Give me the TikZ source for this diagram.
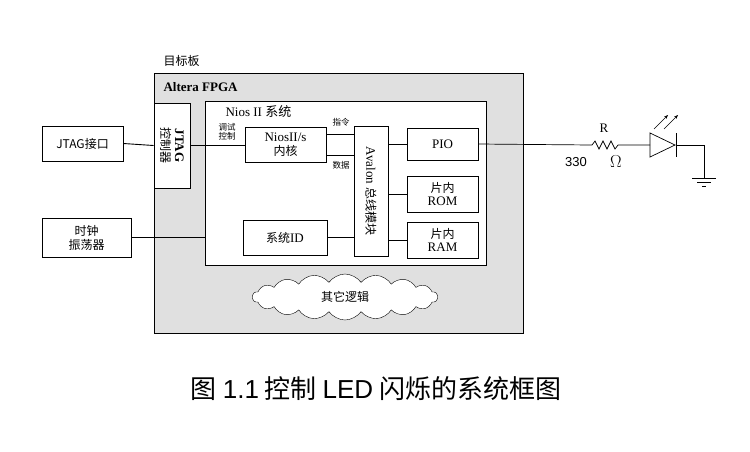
\documentclass[tikz,border=0pt]{standalone}
\usepackage{fontspec}
\setmainfont{Liberation Serif}
\newfontfamily\cjk{Noto Sans CJK SC}
\newfontfamily\sans{Liberation Sans}
\usetikzlibrary{shapes.symbols,arrows.meta}
\begin{document}
\begin{tikzpicture}[x=1pt,y=-1pt,
 box/.style={draw,line width=0.9pt,fill=white,inner sep=0,font=\fontsize{13}{15}\selectfont},
 ln/.style={line width=0.9pt},
 sm/.style={font=\cjk\fontsize{8.5}{9.5}\selectfont}]
\useasboundingbox (0,0) rectangle (750,451);
\node[anchor=south west,font=\cjk\fontsize{12}{13}\selectfont] (tb) at (160,70) {目标板};
\draw[fill=black!12,line width=0.8pt] (154,73) rectangle (523,333);
\node[anchor=west,font=\bfseries\fontsize{13}{14}\selectfont] (af) at (160,87) {Altera FPGA};
\draw[fill=white,line width=0.9pt] (205,101) rectangle (486,265);
\node[anchor=west,font=\fontsize{13}{14}\selectfont] (ns) at (222,112) {Nios II {\cjk 系统}};
\node[box,minimum width=36,minimum height=85] (jc) at (172,145.5) {};
\node[rotate=-90,font=\bfseries\fontsize{13}{14}\selectfont,align=center] (jct) at (172,145.5) {JTAG\\{\cjk\mdseries\fontsize{12}{13}\selectfont 控制器}};
\node[box,minimum width=81,minimum height=35,align=center,font=\fontsize{13}{14}\selectfont] (nc) at (285.5,145) {NiosII/s\\{\cjk\fontsize{12}{13}\selectfont 内核}};
\node[box,minimum width=34,minimum height=130] (av) at (371,191) {};
\node[rotate=-90,font=\fontsize{13}{14}\selectfont] (avt) at (371,191) {Avalon {\cjk\fontsize{12}{13}\selectfont 总线模块}};
\node[box,minimum width=71,minimum height=32] (pio) at (442.5,144) {PIO};
\node[box,minimum width=71,minimum height=36,align=center,font=\fontsize{13}{13.5}\selectfont] (rom) at (442.5,194) {{\cjk\fontsize{12}{13}\selectfont 片内}\\ROM};
\node[box,minimum width=71,minimum height=36,align=center,font=\fontsize{13}{13.5}\selectfont] (ram) at (442.5,240) {{\cjk\fontsize{12}{13}\selectfont 片内}\\RAM};
\node[box,minimum width=84,minimum height=35,font=\cjk\fontsize{12}{13}\selectfont] (sid) at (285,237.5) {系统{\rmfamily\fontsize{13}{14}\selectfont ID}};
\node[box,minimum width=81,minimum height=35,font=\cjk\fontsize{12}{13}\selectfont] (jp) at (82.5,143.5) {JTAG接口};
\node[box,minimum width=89,minimum height=39,align=center,font=\cjk\fontsize{12}{14}\selectfont] (clk) at (86.5,237.5) {时钟\\振荡器};
\node[cloud,draw,fill=white,cloud puffs=18,cloud puff arc=110,aspect=4.5,minimum width=185,minimum height=46,font=\cjk\fontsize{12}{13}\selectfont] (cl) at (345,297) {其它逻辑};
\node[sm,align=center] (ts) at (227,132) {调试\\控制};
\node[sm] (zl) at (341,122) {指令};
\node[sm] (sj) at (341,165) {数据};
\draw[ln] (jp.east) -- (jc.west);
\draw[ln] (jc.east |- nc.west) -- (nc.west);
\draw[ln] (nc.east |- 0,134) -- (av.west |- 0,134);
\draw[ln] (nc.east |- 0,155) -- (av.west |- 0,155);
\draw[ln] (sid.east) -- (av.west |- sid.east);
\draw[ln] (av.east |- pio.west) -- (pio.west);
\draw[ln] (av.east |- rom.west) -- (rom.west);
\draw[ln] (av.east |- ram.west) -- (ram.west);
\draw[ln] (clk.east) -- (205,237.5);
\coordinate (r1) at (592,145);
\coordinate (r2) at (620,145);
\coordinate (la) at (650,145);
\coordinate (gn) at (704,178);
\draw[line width=0.7pt] (pio.east) -- (r1) -- ++(3,-4) -- ++(4,8) -- ++(4,-8) -- ++(4,8) -- ++(4,-8) -- ++(4,8) -- ++(3,-4) -- (r2) -- (la);
\draw[line width=0.7pt] (la) ++(0,-12) -- ++(0,24) -- ++(25,-12) -- cycle;
\draw[line width=0.7pt] (676,133) -- (676,157) (676,145) -- (704,145) -- (gn);
\draw[line width=0.7pt] (gn) ++(-12,0) -- ++(24,0) (gn) ++(-7,4) -- ++(14,0) (gn) ++(-2,8) -- ++(4,0);
\draw[-{Stealth[length=4pt]},line width=0.5pt] (654,129) -- (668,115);
\draw[-{Stealth[length=4pt]},line width=0.5pt] (664,129) -- (678,115);
\node[font=\fontsize{13}{14}\selectfont] (rl) at (604,128) {R};
\node[font=\fontsize{16}{17}\selectfont] (om) at (616,162) {$\Omega$};
\node[font=\sans\fontsize{13}{14}\selectfont] (v) at (576,162) {330};
\node[font=\cjk\fontsize{26}{28}\selectfont] (cap) at (376,389) {图 {\sans 1.1} 控制 {\sans LED} 闪烁的系统框图};
\end{tikzpicture}
\end{document}
